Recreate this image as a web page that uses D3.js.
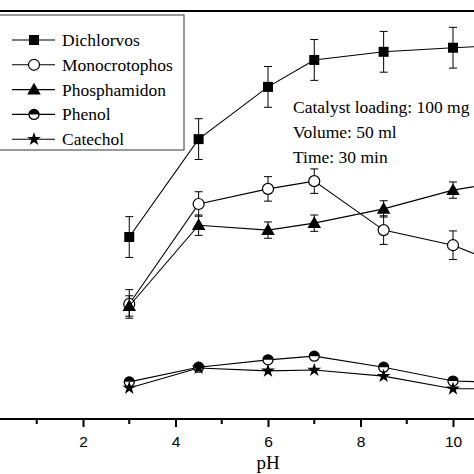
<!DOCTYPE html>
<html><head><meta charset="utf-8">
<script src="https://cdn.jsdelivr.net/npm/d3@7"></script>
<style>body{margin:0;background:#fff}</style>
</head><body>
<svg width="474" height="474"></svg>
<script>
var ph = [3, 4.5, 6, 7, 8.5, 10, 11];
var dichlorvos = [44.6, 68.6, 81.4, 88, 90, 91, 91.5];
var monocrotophos = [28.2, 52.7, 56.4, 58.3, 46.3, 42.6, 38];
var phosphamidon = [27.7, 47.5, 46.3, 48, 51.5, 56.1, 58];
var phenol = [9.1, 12.7, 14.5, 15.4, 12.7, 9.3, 9];
var catechol = [7.6, 12.5, 11.8, 12, 10.5, 7.4, 7.4];
var errDichlorvos = [5, 5, 5, 5, 5, 5, 5];
var errMono = [3.5, 3, 3, 3, 3.5, 3.5, 3.5];
var errPhos = [2.5, 2.5, 2, 2, 2, 2, 2];
var names = ["Dichlorvos", "Monocrotophos", "Phosphamidon", "Phenol", "Catechol"];
var xTicks = [2, 4, 6, 8, 10];

var svg = d3.select("svg");
var x = d3.scaleLinear().domain([2, 10]).range([83, 453]);
var y = d3.scaleLinear().domain([0, 100]).range([419, 11]);

var series = [
  {name: names[0], v: dichlorvos, e: errDichlorvos, m: "square"},
  {name: names[1], v: monocrotophos, e: errMono, m: "open"},
  {name: names[2], v: phosphamidon, e: errPhos, m: "tri"},
  {name: names[3], v: phenol, e: null, m: "half"},
  {name: names[4], v: catechol, e: null, m: "star"}
];

function marker(g, type, cx, cy) {
  if (type == "square") g.append("rect").attr("x", cx - 5).attr("y", cy - 5).attr("width", 10).attr("height", 10).attr("fill", "#000");
  else if (type == "open") g.append("circle").attr("cx", cx).attr("cy", cy).attr("r", 5.5).attr("fill", "#fff").attr("stroke", "#000").attr("stroke-width", 1.2);
  else if (type == "tri") g.append("path").attr("d", d3.symbol(d3.symbolTriangle, 80)()).attr("transform", "translate(" + cx + "," + (cy + 1) + ")").attr("fill", "#000");
  else if (type == "half") {
    g.append("circle").attr("cx", cx).attr("cy", cy).attr("r", 5).attr("fill", "#fff").attr("stroke", "#000").attr("stroke-width", 1.3);
    g.append("path").attr("d", "M" + (cx - 5) + "," + cy + " A5,5 0 0 1 " + (cx + 5) + "," + cy + " Z").attr("fill", "#000");
  }
  else g.append("path").attr("d", d3.symbol(d3.symbolStar, 60)()).attr("transform", "translate(" + cx + "," + cy + ")").attr("fill", "#000");
}

var plot = svg.append("g");
var line = d3.line().x(function (d, i) { return x(ph[i]); }).y(function (d) { return y(d); });
series.forEach(function (s) {
  plot.append("path").attr("d", line(s.v)).attr("fill", "none").attr("stroke", "#000").attr("stroke-width", 1.1);
  s.v.forEach(function (d, i) {
    if (s.e) {
      var cx = x(ph[i]), t = y(d + s.e[i]), b = y(d - s.e[i]);
      plot.append("path").attr("d", "M" + cx + "," + t + "V" + b + "M" + (cx - 4) + "," + t + "H" + (cx + 4) + "M" + (cx - 4) + "," + b + "H" + (cx + 4))
        .attr("stroke", "#000").attr("stroke-width", 1).attr("fill", "none");
    }
    marker(plot, s.m, x(ph[i]), y(d));
  });
});

// frame
svg.append("line").attr("x1", 0).attr("x2", 474).attr("y1", 11).attr("y2", 11).attr("stroke", "#000").attr("stroke-width", 2);
var xAxis = d3.axisBottom(x).tickValues(xTicks).tickSize(8).tickPadding(9);
var ax = svg.append("g").attr("transform", "translate(0,419)").call(xAxis);
ax.select(".domain").remove();
ax.selectAll(".tick line").attr("stroke-width", 2);
ax.selectAll("text").attr("font-family", "Liberation Sans, Arial").attr("font-size", 15.5).attr("fill", "#000");
ax.append("line").attr("x1", 0).attr("x2", 474).attr("stroke", "#000").attr("stroke-width", 2);
ax.selectAll(".minor").data([1, 3, 5, 7, 9]).enter().append("line").attr("class", "minor")
  .attr("x1", function (d) { return x(d); }).attr("x2", function (d) { return x(d); })
  .attr("y1", 0).attr("y2", 5).attr("stroke", "#000").attr("stroke-width", 2);

svg.append("text").attr("x", 268).attr("y", 469).attr("text-anchor", "middle")
  .attr("font-family", "Liberation Serif, Times New Roman").attr("font-size", 19).text("pH");

// legend
var lg = svg.append("g");
lg.append("rect").attr("x", -2).attr("y", 15).attr("width", 186).attr("height", 135).attr("fill", "#fff").attr("stroke", "#555").attr("stroke-width", 1.2);
series.forEach(function (s, i) {
  var ly = 40 + i * 24.8;
  lg.append("line").attr("x1", 12).attr("x2", 55).attr("y1", ly).attr("y2", ly).attr("stroke", "#000").attr("stroke-width", 1.1);
  marker(lg, s.m, 34, ly);
  lg.append("text").attr("x", 62).attr("y", ly + 6).attr("font-family", "Liberation Serif, Times New Roman").attr("font-size", 17.5).text(s.name);
});

var notes = ["Catalyst loading: 100 mg", "Volume: 50 ml", "Time: 30 min"];
notes.forEach(function (t, i) {
  svg.append("text").attr("x", 293).attr("y", 113 + i * 25).attr("font-family", "Liberation Serif, Times New Roman").attr("font-size", 17.5).text(t);
});
</script>
</body></html>
